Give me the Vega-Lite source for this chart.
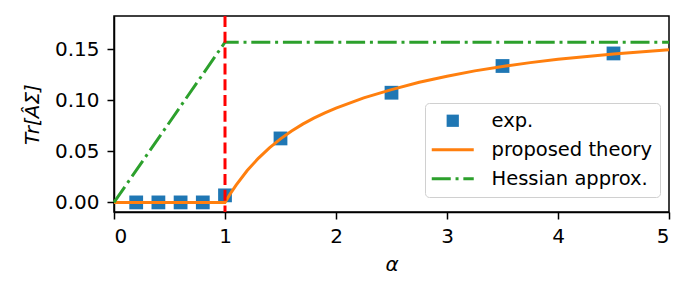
{
  "$schema": "https://vega.github.io/schema/vega-lite/v6.json",
  "autosize": {"type": "none"},
  "width": 555,
  "height": 196,
  "padding": {"left": 114, "top": 16, "right": 24, "bottom": 81},
  "background": "white",
  "datasets": {
    "exp": [
      {"series": "exp.", "alpha": 0.2, "value": 0.0},
      {"series": "exp.", "alpha": 0.4, "value": 0.0},
      {"series": "exp.", "alpha": 0.6, "value": 0.0},
      {"series": "exp.", "alpha": 0.8, "value": 0.0},
      {"series": "exp.", "alpha": 1.0, "value": 0.0069},
      {"series": "exp.", "alpha": 1.5, "value": 0.0627},
      {"series": "exp.", "alpha": 2.5, "value": 0.1075},
      {"series": "exp.", "alpha": 3.5, "value": 0.1337},
      {"series": "exp.", "alpha": 4.5, "value": 0.146}
    ],
    "theory": [
      {"series": "proposed theory", "alpha": 0.0, "value": 0.0},
      {"series": "proposed theory", "alpha": 1.0, "value": 0.0},
      {"series": "proposed theory", "alpha": 1.05, "value": 0.0089},
      {"series": "proposed theory", "alpha": 1.1, "value": 0.017},
      {"series": "proposed theory", "alpha": 1.2, "value": 0.0312},
      {"series": "proposed theory", "alpha": 1.3, "value": 0.0432},
      {"series": "proposed theory", "alpha": 1.4, "value": 0.0534},
      {"series": "proposed theory", "alpha": 1.5, "value": 0.0623},
      {"series": "proposed theory", "alpha": 1.6, "value": 0.0699},
      {"series": "proposed theory", "alpha": 1.7, "value": 0.0767},
      {"series": "proposed theory", "alpha": 1.8, "value": 0.0826},
      {"series": "proposed theory", "alpha": 1.9, "value": 0.0878},
      {"series": "proposed theory", "alpha": 2.0, "value": 0.0925},
      {"series": "proposed theory", "alpha": 2.25, "value": 0.1025},
      {"series": "proposed theory", "alpha": 2.5, "value": 0.1105},
      {"series": "proposed theory", "alpha": 2.75, "value": 0.1178},
      {"series": "proposed theory", "alpha": 3.0, "value": 0.1237},
      {"series": "proposed theory", "alpha": 3.25, "value": 0.1289},
      {"series": "proposed theory", "alpha": 3.5, "value": 0.1333},
      {"series": "proposed theory", "alpha": 3.75, "value": 0.137},
      {"series": "proposed theory", "alpha": 4.0, "value": 0.1402},
      {"series": "proposed theory", "alpha": 4.5, "value": 0.1454},
      {"series": "proposed theory", "alpha": 5.0, "value": 0.1496}
    ],
    "hessian": [
      {"series": "Hessian approx.", "alpha": 0.0, "value": 0.0},
      {"series": "Hessian approx.", "alpha": 1.0, "value": 0.157},
      {"series": "Hessian approx.", "alpha": 5.0, "value": 0.157}
    ],
    "vline": [{"alpha": 1.0}]
  },
  "encoding": {
    "x": {
      "field": "alpha", "type": "quantitative",
      "scale": {"domain": [0, 5], "nice": false, "zero": false},
      "axis": {"values": [0, 1, 2, 3, 4, 5], "format": "d", "title": "α", "titleFontStyle": "italic", "titlePadding": 8}
    },
    "y": {
      "field": "value", "type": "quantitative",
      "scale": {"domain": [-0.0094, 0.1827], "nice": false, "zero": false},
      "axis": {"values": [0, 0.05, 0.1, 0.15], "format": ".2f", "title": "Tr[ÂΣ]", "titleFontStyle": "italic", "titlePadding": 12}
    }
  },
  "layer": [
    {
      "encoding": {
        "color": {
          "field": "series", "type": "nominal",
          "scale": {"domain": ["exp.", "proposed theory", "Hessian approx."], "range": ["#1f77b4", "#ff7f0e", "#2ca02c"]},
          "legend": {
            "title": null,
            "orient": "none",
            "legendX": 311,
            "legendY": 87,
            "symbolSize": 400,
            "symbolOffset": 10,
            "symbolType": "stroke",
            "labelFontSize": 19.5,
            "labelColor": "black",
            "labelFont": "DejaVu Sans",
            "labelOffset": 29,
            "labelLimit": 300,
            "rowPadding": 8,
            "padding": 8,
            "fillColor": "white",
            "strokeColor": "#d0d0d0",
            "cornerRadius": 4,
            "encode": {
              "symbols": {
                "update": {
                  "shape": {"signal": "datum.value === 'exp.' ? 'square' : 'stroke'"},
                  "size": {"signal": "datum.value === 'exp.' ? 150 : 1764"},
                  "fill": {"signal": "datum.value === 'exp.' ? '#1f77b4' : 'transparent'"},
                  "stroke": {"signal": "datum.value === 'exp.' ? 'transparent' : (datum.value === 'proposed theory' ? '#ff7f0e' : '#2ca02c')"},
                  "strokeWidth": {"signal": "datum.value === 'exp.' ? 0 : 3"},
                  "strokeDash": {"signal": "datum.value === 'Hessian approx.' ? [19, 4.8, 3, 4.8] : [1, 0]"},
                  "opacity": {"value": 1}
                }
              }
            }
          }
        }
      },
      "layer": [
        {
          "data": {"name": "exp"},
          "mark": {"type": "point", "shape": "square", "filled": true, "size": 190, "opacity": 1}
        },
        {
          "data": {"name": "theory"},
          "mark": {"type": "line", "strokeWidth": 3}
        },
        {
          "data": {"name": "hessian"},
          "mark": {"type": "line", "strokeWidth": 3, "strokeDash": [19, 4.8, 3, 4.8]}
        }
      ]
    },
    {
      "data": {"name": "vline"},
      "mark": {"type": "rule", "color": "#ff0000", "strokeWidth": 3, "strokeDash": [11, 4.8]},
      "encoding": {"y": null}
    }
  ],
  "config": {
    "font": "DejaVu Sans",
    "view": {"stroke": "black", "strokeWidth": 1.5},
    "axis": {
      "grid": false,
      "domainColor": "black", "domainWidth": 1.5,
      "tickColor": "black", "tickWidth": 1.5, "tickSize": 7,
      "labelFontSize": 20, "labelColor": "black", "labelFont": "DejaVu Sans",
      "titleFontSize": 20, "titleColor": "black", "titleFontWeight": "normal", "titleFont": "DejaVu Sans"
    },
    "axisX": {"labelPadding": 7},
    "axisY": {"labelPadding": 8}
  }
}
